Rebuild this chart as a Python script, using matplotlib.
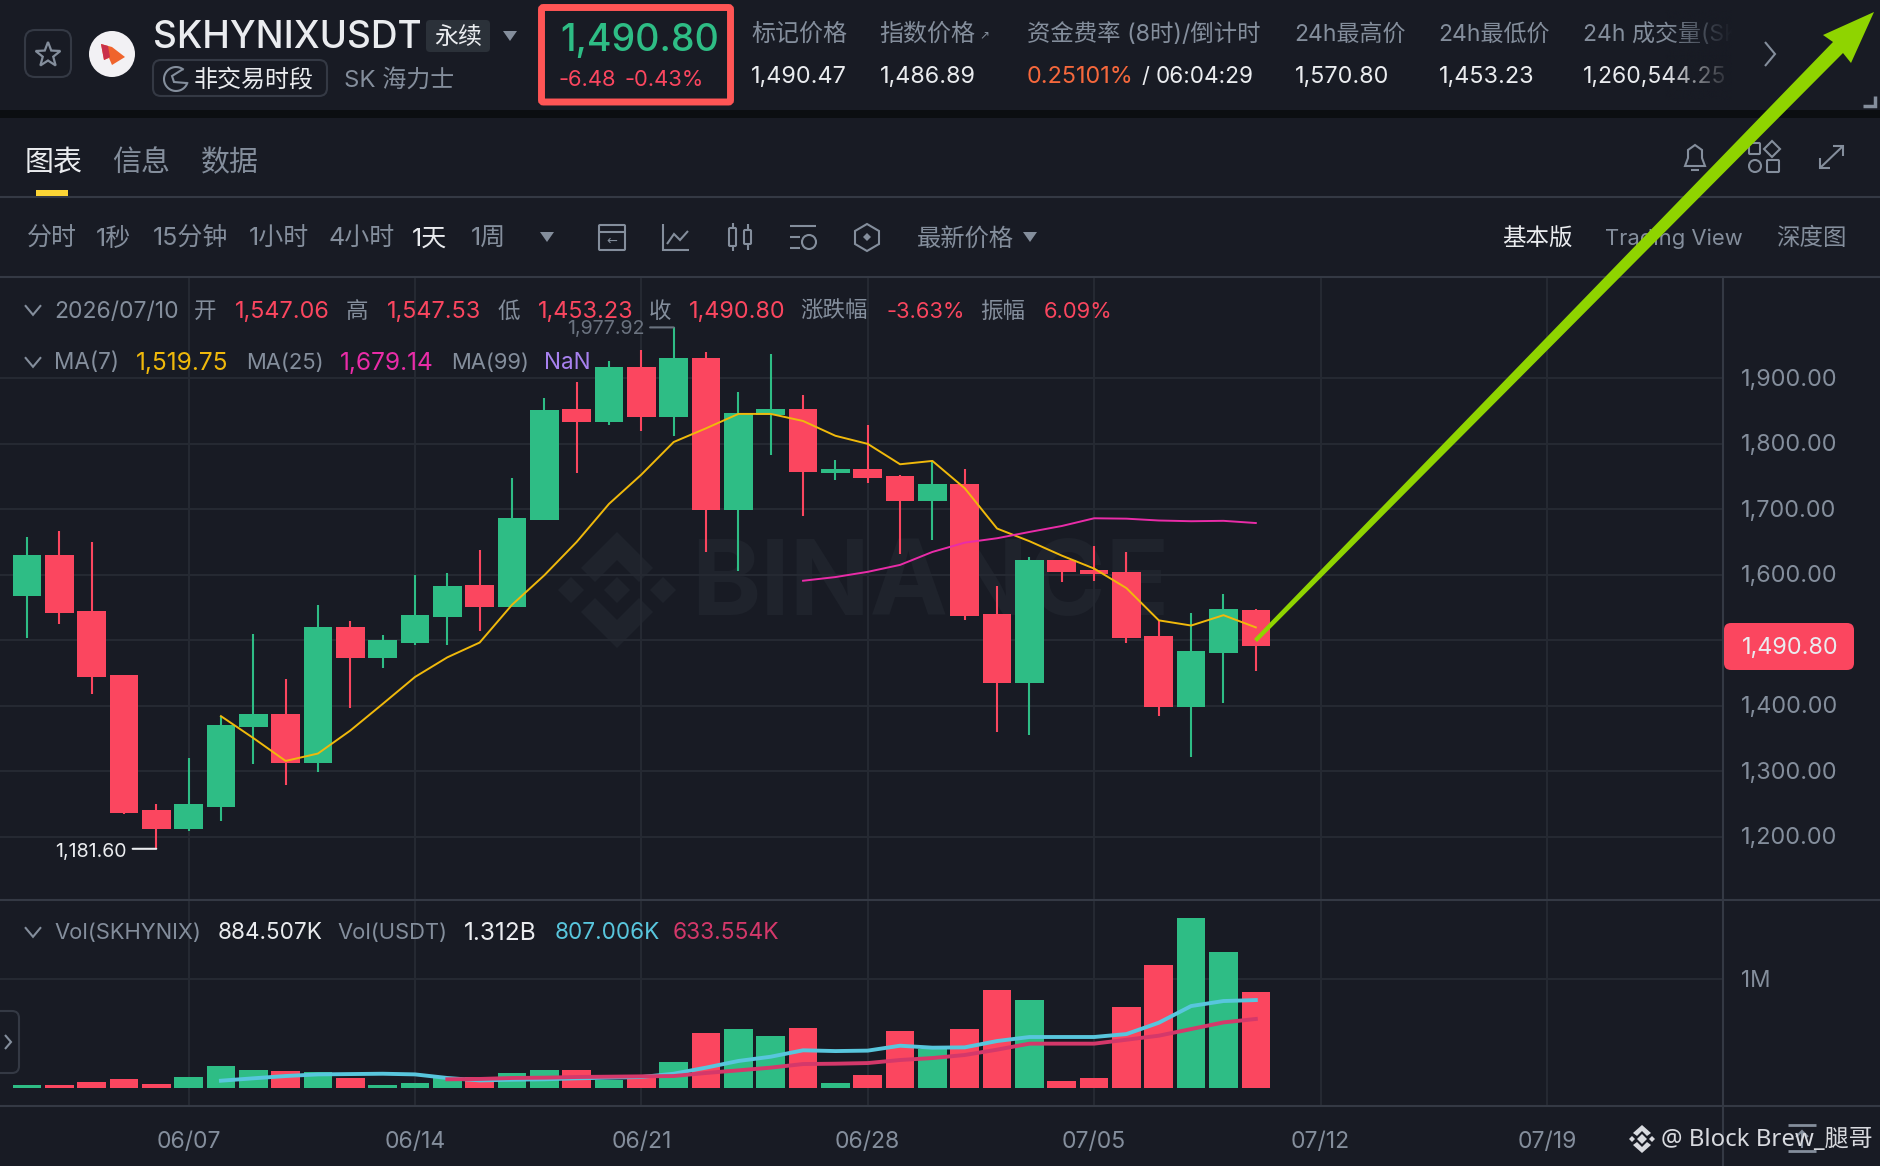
import numpy as np
import pandas as pd
import matplotlib
matplotlib.use('Agg')
import matplotlib.pyplot as plt
from matplotlib.patches import FancyBboxPatch, Polygon, Circle, Rectangle
from matplotlib.transforms import ScaledTranslation

plt.rcParams['font.family'] = ['Inter', 'Noto Sans CJK SC', 'DejaVu Sans']

# ---------- data ----------
start_date = '2026-06-02'
opens = [1567.8, 1630.0, 1544.6, 1446.9, 1240.1, 1211.9, 1245.8, 1367.2, 1387.0, 1311.9,
         1520.9, 1472.9, 1496.6, 1535.6, 1584.2, 1551.4, 1684.2, 1852.6, 1833.3, 1917.0,
         1841.8, 1931.0, 1699.4, 1844.7, 1852.6, 1755.3, 1761.6, 1750.8, 1712.5, 1739.0,
         1540.7, 1435.0, 1623.2, 1607.4, 1605.1, 1506.2, 1398.8, 1481.3, 1547.06]
highs = [1657.6, 1666.7, 1649.7, 1446.9, 1250.3, 1319.8, 1384.7, 1509.0, 1441.2, 1554.2,
         1529.3, 1507.9, 1599.4, 1602.3, 1637.8, 1747.4, 1869.5, 1894.4, 1926.5, 1943.5,
         1977.92, 1939.6, 1878.5, 1937.3, 1874.6, 1775.7, 1829.4, 1751.9, 1774.5, 1762.2,
         1582.5, 1627.1, 1623.2, 1644.7, 1634.5, 1531.6, 1541.3, 1570.8, 1547.53]
lows = [1503.9, 1524.3, 1418.6, 1235.0, 1181.6, 1208.9, 1223.8, 1311.4, 1278.5, 1298.9,
        1397.1, 1458.2, 1492.1, 1493.2, 1514.2, 1551.4, 1684.2, 1754.8, 1828.8, 1819.7,
        1812.4, 1635.0, 1605.7, 1783.6, 1690.4, 1744.6, 1740.1, 1631.1, 1653.7, 1531.0,
        1360.5, 1355.4, 1589.8, 1590.4, 1496.6, 1384.2, 1322.0, 1404.5, 1453.23]
closes = [1630.0, 1542.4, 1444.0, 1236.7, 1211.9, 1249.7, 1370.0, 1387.0, 1311.9, 1520.9,
          1472.9, 1500.0, 1538.4, 1583.6, 1551.4, 1687.0, 1852.0, 1833.3, 1917.0, 1841.8,
          1931.6, 1699.4, 1846.9, 1852.6, 1756.5, 1761.6, 1748.0, 1712.5, 1739.0, 1537.9,
          1435.0, 1623.2, 1604.6, 1601.7, 1503.4, 1398.8, 1484.1, 1547.1, 1490.80]
ma7 = [1384.2, 1350.8, 1315.8, 1327.1, 1362.2, 1402.8, 1444.0, 1474.0, 1496.6, 1554.2,
       1599.4, 1650.3, 1708.4, 1753.1, 1802.9, 1823.8, 1845.8, 1845.8, 1835.0, 1812.4,
       1800.0, 1768.9, 1774.0, 1732.2, 1670.7, 1651.4, 1629.4, 1609.6, 1579.7, 1530.5,
       1522.6, 1538.4, 1519.75]
ma25 = [1591.0, 1596.6, 1604.6, 1615.2, 1635.0, 1649.2, 1655.9, 1665.5, 1674.6, 1686.4,
        1685.8, 1683.0, 1681.9, 1682.5, 1679.14]
volumes_k = [28, 31, 52, 80, 37, 101, 199, 165, 153, 144, 92, 24, 46, 104, 104, 138, 168, 165,
             76, 104, 235, 508, 541, 474, 547, 46, 119, 523, 361, 538, 899, 810, 61, 92, 740,
             1125, 1560, 1245, 884.507]
vol_ma_fast_k = [67, 89, 110, 125, 128, 131, 125, 92, 70, 76, 80, 89, 95, 101, 131, 187, 248,
                 287, 346, 339, 343, 388, 370, 373, 431, 468, 468, 468, 495, 599, 752, 798, 807.006]
vol_ma_slow_k = [80, 83, 92, 95, 101, 104, 107, 110, 138, 162, 187, 220, 223, 229, 257, 275,
                 303, 352, 407, 407, 407, 443, 480, 541, 602, 633.554]
price_ticks = [1200, 1300, 1400, 1500, 1600, 1700, 1800, 1900]
date_ticks = ['2026-06-07', '2026-06-14', '2026-06-21', '2026-06-28', '2026-07-05', '2026-07-12', '2026-07-19']
last_price = 1490.80

# ---------- colours ----------
BG = '#181B24'; GAP = '#0B0E11'; GRID = '#252932'; SEP = '#343944'
GREEN = '#2EBD85'; RED = '#FB465F'; GRAY = '#848E9C'; DIM = '#6B7380'; WHITE = '#EAECEF'
YEL = '#F0B90B'; MAG = '#E92CA8'; PUR = '#A781EF'; BLUE = '#58C6DD'; CRIM = '#D4386A'
WM = '#1F232C'

W, H = 1880, 1166
fig = plt.figure(figsize=(W / 100, H / 100), dpi=100, facecolor=BG)
PX = 0.72
NUM = 23.4

def axes_px(x0, y0, x1, y1, z):
    return fig.add_axes([x0 / W, 1 - y1 / H, (x1 - x0) / W, (y1 - y0) / H], zorder=z)

# background layer
under = axes_px(0, 0, W, H, 0); under.set_xlim(0, W); under.set_ylim(H, 0); under.axis('off')
under.add_patch(Rectangle((0, 110), W, 8, fc=GAP, ec='none'))
under.text(930, 588, 'BINANCE', color=WM, fontsize=105 * PX, weight='bold', ha='center', va='center', family=['Inter'])
def diamond(ax, cx, cy, r, **k):
    ax.add_patch(Polygon([(cx - r, cy), (cx, cy - r), (cx + r, cy), (cx, cy + r)], closed=True, **k))
LX, LY = 617, 590
for dx in (-46, 0, 46):
    diamond(under, LX + dx, LY, 13, fc=WM, ec='none')
under.add_patch(Polygon([(LX, LY - 58), (LX + 36, LY - 22), (LX + 22, LY - 8), (LX, LY - 30), (LX - 22, LY - 8), (LX - 36, LY - 22)], fc=WM, ec='none'))
under.add_patch(Polygon([(LX, LY + 58), (LX + 36, LY + 22), (LX + 22, LY + 8), (LX, LY + 30), (LX - 22, LY + 8), (LX - 36, LY + 22)], fc=WM, ec='none'))

# ---------- price pane ----------
n = len(closes)
days = pd.date_range(start_date, periods=n)
xi = np.arange(n)
o, h, l, c = map(np.array, (opens, highs, lows, closes))
up = c >= o
col = np.where(up, GREEN, RED)
tick_pos = [(pd.Timestamp(d) - days[0]).days for d in date_ticks]
tick_lab = [pd.Timestamp(d).strftime('%m/%d') for d in date_ticks]

X0 = -26.9 / 32.34; X1 = (1723 - 26.9) / 32.34
ax = axes_px(0, 277, 1723, 900, 2)
ax.patch.set_alpha(0)
ax.set_xlim(X0, X1); ax.set_ylim(1103.4, 2054.9)
ax.vlines(xi, l, h, colors=col, lw=1.5, zorder=3)
ax.bar(xi, np.abs(c - o), bottom=np.minimum(o, c), width=0.885, color=col, zorder=4)
ax.plot(xi[-len(ma7):], ma7, color=YEL, lw=1.4, zorder=5)
ax.plot(xi[-len(ma25):], ma25, color=MAG, lw=1.4, zorder=5)
ax.set_yticks(price_ticks)
ax.set_yticklabels([f'{v:,.2f}' for v in price_ticks])
ax.yaxis.tick_right()
ax.set_xticks(tick_pos); ax.set_xticklabels([])
ax.tick_params(axis='both', length=0)
ax.tick_params(axis='y', labelsize=NUM * PX, labelcolor=GRAY, pad=13)
ax.grid(True, color=GRID, lw=1.5, zorder=0)
for s in ax.spines.values():
    s.set_visible(False)
up_shift = ScaledTranslation(0, 1 / 100, fig.dpi_scale_trans)
for lab in ax.get_yticklabels():
    lab.set_transform(lab.get_transform() + up_shift)

def extreme(ax, i, val, color, dy):
    ax.annotate('', xy=(i, val), xytext=(-17, 0), textcoords='offset points',
                arrowprops=dict(arrowstyle='-', color=color, lw=1.5, shrinkA=0, shrinkB=0), zorder=6)
    ax.annotate(f'{val:,.2f}', xy=(i, val), xytext=(-21, dy), textcoords='offset points', ha='right',
                va='center', color=color, fontsize=19.6 * PX, zorder=6)
extreme(ax, int(np.argmax(h)), h.max(), DIM, -0.8)
extreme(ax, int(np.argmin(l)), l.min(), WHITE, -2)

# ---------- volume pane ----------
vx = axes_px(0, 900, 1723, 1106, 2)
vx.patch.set_alpha(0)
vx.set_xlim(X0, X1); vx.set_ylim(-165, 1725)
vx.bar(xi, volumes_k, width=0.885, color=col, zorder=3)
vx.plot(xi[-len(vol_ma_fast_k):], vol_ma_fast_k, color=BLUE, lw=2.8, zorder=4)
vx.plot(xi[-len(vol_ma_slow_k):], vol_ma_slow_k, color=CRIM, lw=2.8, zorder=5)
vx.set_yticks([1000]); vx.set_yticklabels(['1M'])
vx.yaxis.tick_right()
vx.set_xticks(tick_pos); vx.set_xticklabels(tick_lab)
vx.tick_params(axis='both', length=0)
vx.tick_params(axis='y', labelsize=22.5 * PX, labelcolor=GRAY, pad=13)
vx.tick_params(axis='x', labelsize=23 * PX, labelcolor=GRAY, pad=18.2)
vx.grid(True, color=GRID, lw=1.5, zorder=0)
for s in vx.spines.values():
    s.set_visible(False)
for lab in vx.get_yticklabels():
    lab.set_transform(lab.get_transform() + up_shift)

# ---------- interface overlay ----------
ui = axes_px(0, 0, W, H, 5); ui.set_xlim(0, W); ui.set_ylim(H, 0); ui.axis('off'); ui.patch.set_alpha(0)

def T(x, y, s, px=22, color=GRAY, ha='left', weight='normal', z=6, **k):
    ui.text(x, y, s, fontsize=px * PX, color=color, ha=ha, va='center', weight=weight, zorder=z, **k)
def L(xs, ys, color=SEP, lw=1.5, z=3):
    ui.plot(xs, ys, color=color, lw=lw, zorder=z, solid_capstyle='butt', solid_joinstyle='miter')
def R(x0, y0, x1, y1, fc='none', ec='none', lw=1.5, rad=5, z=3):
    ui.add_patch(FancyBboxPatch((x0 + rad, y0 + rad), x1 - x0 - 2 * rad, y1 - y0 - 2 * rad,
                                boxstyle=f'round,pad={rad},rounding_size={rad}', fc=fc, ec=ec, lw=lw, zorder=z))
def tri(cx, cy, w=14, hgt=10, color=GRAY):
    ui.add_patch(Polygon([(cx - w / 2, cy - hgt / 2), (cx + w / 2, cy - hgt / 2), (cx, cy + hgt / 2)], fc=color, ec='none', zorder=4))
def vee(cx, cy, w=8, color=GRAY):
    L([cx - w, cx, cx + w], [cy - w * .6, cy + w * .6, cy - w * .6], color=color, lw=1.5)

# separators
L([0, W], [197, 197]); L([0, W], [277, 277]); L([0, W], [900, 900]); L([0, W], [1106, 1106])
L([1723, 1723], [277, H])

# header
R(25, 30, 71, 77, ec=SEP, rad=10)
star_a = np.deg2rad(np.arange(10) * 36 - 90)
star_r = np.where(np.arange(10) % 2 == 0, 13, 5.5)
ui.add_patch(Polygon(np.c_[48 + star_r * np.cos(star_a), 55 + star_r * np.sin(star_a)], fc='none', ec=GRAY, lw=1.6, zorder=4))
ui.add_patch(Circle((112, 54), 23, fc='#F2F1F4', ec='none', zorder=4))
ui.add_patch(Polygon([(101, 44), (112, 47), (125, 57), (112, 65), (109, 58), (104, 60)], fc='#F0642C', ec='none', zorder=5))
ui.add_patch(Polygon([(101, 44), (108, 46), (110, 57), (104, 60)], fc='#C9304A', ec='none', zorder=6))
T(153, 38, 'SKHYNIXUSDT', 37, WHITE, weight='medium')
R(426, 20, 490, 52, fc='#2B3139', rad=4)
T(458, 38, '永续', 24, WHITE, ha='center')
tri(510, 36)
R(541.5, 7.5, 730.5, 102, ec='#FF5555', lw=5, rad=2, z=4)
T(560, 41, '1,490.80', 37.5, GREEN, weight='medium')
T(559, 80, '-6.48', 22, RED); T(625, 80, '-0.43%', 22, RED)
R(153, 60, 327, 96, ec=SEP, lw=1.5, rad=8)
moon_t = np.deg2rad(np.linspace(-70, 215, 40))
moon_o = np.c_[176 + 12 * np.cos(moon_t + np.pi / 2), 79 + 12 * np.sin(moon_t + np.pi / 2)]
ui.plot(moon_o[:, 0], moon_o[:, 1], color=GRAY, lw=1.5, zorder=4)
L([moon_o[-1, 0], 172, 174, moon_o[0, 0]], [moon_o[-1, 1], 76, 82, moon_o[0, 1]], GRAY)
T(194, 80, '非交易时段', 24, WHITE)
T(344, 80, 'SK 海力士', 24, GRAY)
T(751, 35, '标记价格', 24, GRAY); T(751, 77, '1,490.47', NUM, WHITE)
T(879, 35, '指数价格', 24, GRAY); T(979, 35, '↗', 12, GRAY, family=['DejaVu Sans']); T(880, 77, '1,486.89', NUM, WHITE)
T(1027, 35, '资金费率 (8时)/倒计时', 23.4, GRAY)
T(1027, 77, '0.25101%', NUM, '#F6683C'); T(1141, 77, '/', 22, WHITE); T(1156, 77, '06:04:29', 22.6, WHITE)
T(1294, 35, '24h最高价', 23, GRAY); T(1295, 77, '1,570.80', NUM, WHITE)
T(1438, 35, '24h最低价', 23, GRAY); T(1439, 77, '1,453.23', NUM, WHITE)
T(1583, 35, '24h 成交量(SKHYNIX)', 23, GRAY, z=4); T(1583, 77, '1,260,544.25', 23, WHITE, z=4)
rgb = np.array(matplotlib.colors.to_rgb(BG))
grad = np.zeros((1, 256, 4)); grad[..., :3] = rgb; grad[..., 3] = np.linspace(0, 1, 256)
ui.imshow(grad, extent=(1665, 1732, 100, 10), aspect='auto', zorder=5)
ui.add_patch(Rectangle((1732, 10), 148, 90, fc=BG, ec='none', zorder=5))
ui.set_xlim(0, W); ui.set_ylim(H, 0)
L([1765, 1775, 1765], [42, 54, 66], color=GRAY, lw=1.5, z=6)
L([1863, 1875, 1875], [106, 106, 96], color=GRAY, lw=2.5, z=6)

# tabs
T(25, 163, '图表', 29, WHITE); T(112, 163, '信息', 29, GRAY); T(201, 163, '数据', 29, GRAY)
ui.add_patch(Rectangle((36, 190), 32, 6, fc='#FCD535', ec='none', zorder=4))
# bell, grid, expand icons
ui.add_patch(Polygon([(1685, 166), (1688, 158), (1688, 150), (1695, 145), (1702, 150), (1702, 158), (1705, 166)],
                     fc='none', ec=GRAY, lw=1.5, zorder=4))
L([1691, 1699], [170, 170], GRAY)
R(1749, 143, 1760, 154, ec=GRAY, rad=1); diamond(ui, 1772, 149, 8, fc='none', ec=GRAY, lw=1.5, zorder=4)
ui.add_patch(Circle((1755, 166), 6, fc='none', ec=GRAY, lw=1.5, zorder=4)); R(1767, 160, 1779, 172, ec=GRAY, rad=1)
L([1820, 1843], [168, 146], GRAY); L([1833, 1843, 1843], [146, 146, 156], GRAY); L([1820, 1820, 1830], [158, 168, 168], GRAY)

# toolbar
for x, s, colr in [(27, '分时', GRAY), (96, '1秒', GRAY), (153, '15分钟', GRAY), (249, '1小时', GRAY),
                   (329, '4小时', GRAY), (412, '1天', WHITE), (471, '1周', GRAY)]:
    T(x, 239, s, 25, colr)
tri(547, 237)
R(599, 225, 625, 250, ec=GRAY, rad=1); L([599, 625], [232, 232], GRAY); T(612, 241, '←', 13, GRAY, ha='center', family=['DejaVu Sans'])
L([663, 663, 689], [224, 250, 250], GRAY); L([667, 674, 680, 688], [244, 234, 240, 231], GRAY)
R(729, 228, 736, 246, ec=GRAY, rad=1); R(744, 230, 751, 244, ec=GRAY, rad=1); L([732.5, 732.5], [223, 228], GRAY); L([732.5, 732.5], [246, 251], GRAY); L([747.5, 747.5], [224, 230], GRAY); L([747.5, 747.5], [244, 250], GRAY)
L([790, 816], [226, 226], GRAY); L([790, 800], [237, 237], GRAY); L([790, 800], [248, 248], GRAY)
ui.add_patch(Circle((809, 242), 7, fc='none', ec=GRAY, lw=1.5, zorder=4))
ui.add_patch(Polygon([(867, 224), (879, 231), (879, 244), (867, 251), (855, 244), (855, 231)], fc='none', ec=GRAY, lw=1.5, zorder=4))
diamond(ui, 867, 237, 4, fc=GRAY, ec='none', zorder=4)
T(917, 239, '最新价格', 24.3, GRAY); tri(1030, 237)
T(1502, 239, '基本版', 23.5, WHITE, weight='medium'); T(1605, 239, 'Trading View', 22, GRAY); T(1776, 239, '深度图', 23.5, GRAY)

# legend rows
vee(33, 310); T(54, 312, '2026/07/10', 23, GRAY)
for x, s in [(194, '开'), (346, '高'), (498, '低'), (649, '收'), (800, '涨跌幅'), (980, '振幅')]:
    T(x, 312, s, 22.5, GRAY)
for x, s, px in [(235, '1,547.06', NUM), (387, '1,547.53', NUM), (538, '1,453.23', NUM), (689, '1,490.80', NUM),
                 (887, '-3.63%', 22), (1044, '6.09%', 22)]:
    T(x, 312, s, px, RED)
vee(33, 362); T(54, 363, 'MA(7)', 22.5, GRAY); T(136, 363, '1,519.75', 24.5, YEL)
T(246, 363, 'MA(25)', 22, GRAY); T(340, 363, '1,679.14', 24.5, MAG)
T(451, 363, 'MA(99)', 22, GRAY); T(544, 363, 'NaN', 22.5, PUR)
vee(33, 932); T(54, 933, 'Vol(SKHYNIX)', 22, GRAY); T(218, 933, '884.507K', 22.5, WHITE)
T(337, 933, 'Vol(USDT)', 22, GRAY); T(464, 933, '1.312B', 24.5, WHITE)
T(555, 933, '807.006K', 22.5, BLUE); T(673, 933, '633.554K', 22.8, CRIM)

# last price tag
R(1724, 623, 1854, 670, fc=RED, rad=7, z=7)
T(1790, 648, f'{last_price:,.2f}', NUM, WHITE, ha='center', z=8)

# collapse handle
R(-12, 1011, 19, 1073, ec=SEP, rad=7); L([5, 11, 5], [1035, 1042, 1049], GRAY)

# scroll-to-top icon + credit
L([1788, 1816], [1125, 1125], GRAY, 2); L([1788, 1816], [1151, 1151], GRAY, 2)
L([1796, 1802, 1808], [1137, 1131, 1137], GRAY); L([1802, 1802], [1131, 1148], GRAY)
CR = '#D8DADF'
diamond(ui, 1642, 1139, 5, fc=CR, ec='none', zorder=6)
diamond(ui, 1632, 1139, 3, fc=CR, ec='none', zorder=6); diamond(ui, 1652, 1139, 3, fc=CR, ec='none', zorder=6)
ui.add_patch(Polygon([(1642, 1125), (1651, 1133), (1647, 1136), (1642, 1131), (1637, 1136), (1633, 1133)], fc=CR, ec='none', zorder=6))
ui.add_patch(Polygon([(1642, 1153), (1651, 1145), (1647, 1142), (1642, 1147), (1637, 1142), (1633, 1145)], fc=CR, ec='none', zorder=6))
T(1661, 1140, '@ Block Brew_腿哥', 24, CR, family=['Noto Sans', 'Noto Sans CJK SC'])

# hand-drawn green arrow
ui.add_patch(Polygon([(1254, 639), (1833, 42), (1823, 35), (1874, 12), (1851, 63), (1843, 53), (1257, 642)],
                     closed=True, fc='#8FD400', ec='none', zorder=9))

fig.savefig('out.png', dpi=100, facecolor=BG)
